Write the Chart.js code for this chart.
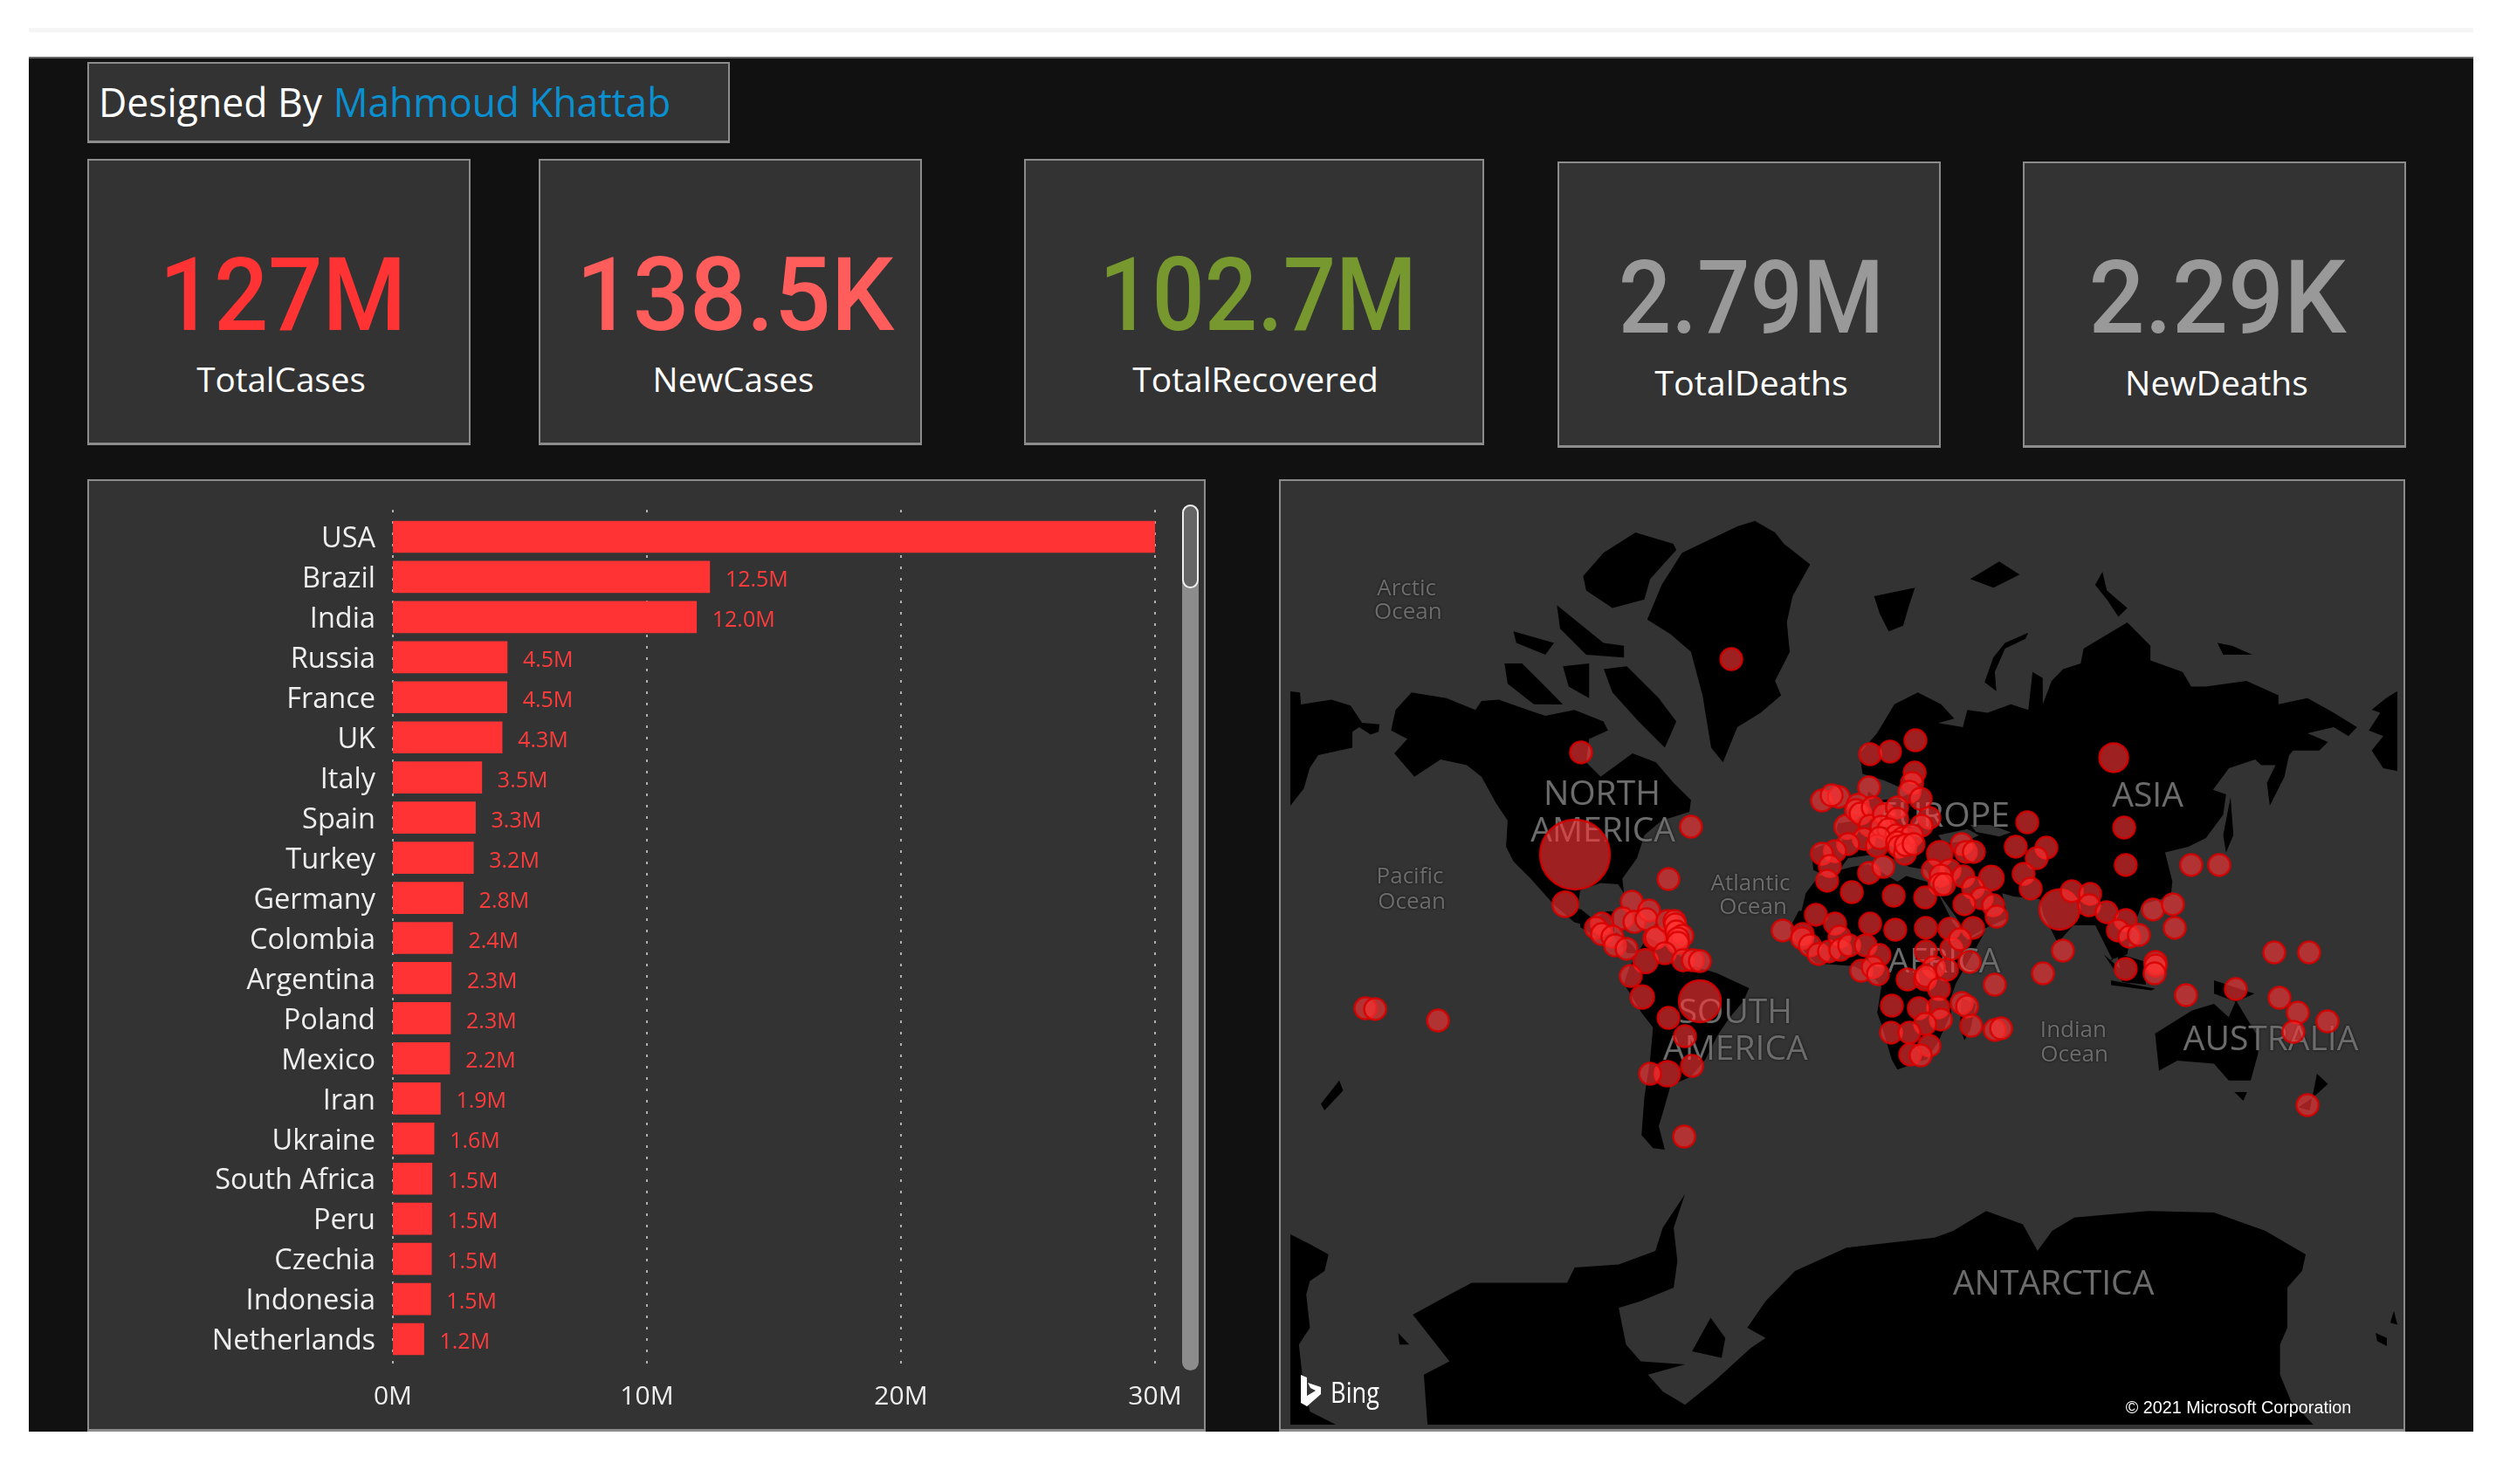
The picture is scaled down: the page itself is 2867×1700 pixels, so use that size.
<!DOCTYPE html>
<html lang="en">
<head>
<meta charset="UTF-8">
<title>COVID-19 dashboard</title>
<script src="https://cdn.jsdelivr.net/npm/chart.js@4"></script>
<style>
    html, body { margin: 0; padding: 0; background: #fff; }
    body { position: relative; width: 2867px; height: 1700px; overflow: hidden; font-family: "Open Sans", sans-serif; }
    .abs { position: absolute; box-sizing: border-box; }
    #strip { left: 33px; top: 32px; width: 2800px; height: 5px; background: #f5f5f5; }
    #board { left: 33px; top: 65px; width: 2800px; height: 1575px; background: #111; border-top: 2px solid #666; }
    .panel { background: #333; border: 2px solid #8c8c8c; border-bottom-width: 3px; }
    .txt { position: absolute; white-space: nowrap; line-height: 1; }
    canvas { position: absolute; }
    #track { left: 1354px; top: 578px; width: 19px; height: 992px; background: #8c8c8c; border-radius: 10px; }
    #thumb { left: 1354px; top: 578px; width: 19px; height: 96px; background: #666; border: 2px solid #eee; border-radius: 10px; }
</style>
</head>
<body>
<div id="strip" class="abs"></div>
<div id="board" class="abs"></div>
<div class="abs panel" style="left:100px;top:71px;width:736px;height:93px"></div>
<div class="abs panel" style="left:100px;top:549px;width:1281px;height:1091px"></div>
<div class="abs panel" style="left:1465px;top:549px;width:1290px;height:1091px"></div>
<canvas id="barChart" width="1281" height="1091" style="left:100px;top:549px"></canvas>
<div id="track" class="abs"></div>
<div id="thumb" class="abs"></div>
<canvas id="mapChart" width="1268" height="1077" style="left:1478px;top:555px"></canvas>
<svg class="abs" style="left:1490px;top:1575px" width="24" height="37" viewBox="0 0 24 37">
    <path fill="#fff" d="M0 0 L7 3 V24 L17 18 L11 15 L8 9 L23 14 V22 L7 36 L0 32 Z"/>
</svg>
<script>
// KPI cards
const kpiValues = ['127M', '138.5K', '102.7M', '2.79M', '2.29K'];
const kpiLabels = ['TotalCases', 'NewCases', 'TotalRecovered', 'TotalDeaths', 'NewDeaths'];

// bar chart
const countries = ['USA', 'Brazil', 'India', 'Russia', 'France', 'UK', 'Italy', 'Spain', 'Turkey', 'Germany',
    'Colombia', 'Argentina', 'Poland', 'Mexico', 'Iran', 'Ukraine', 'South Africa', 'Peru', 'Czechia', 'Indonesia', 'Netherlands'];
const casesM = [30.0, 12.47, 11.95, 4.5, 4.49, 4.3, 3.5, 3.25, 3.17, 2.77, 2.35, 2.3, 2.27, 2.24, 1.87, 1.62, 1.54, 1.53, 1.52, 1.49, 1.22];
const caseLabels = ['', '12.5M', '12.0M', '4.5M', '4.5M', '4.3M', '3.5M', '3.3M', '3.2M', '2.8M', '2.4M', '2.3M', '2.3M', '2.2M', '1.9M', '1.6M', '1.5M', '1.5M', '1.5M', '1.5M', '1.2M'];
const axisTicks = [0, 10, 20, 30];

// map bubbles, [map longitude, map northing]
const largeBubbles = [[-102, 45.7, 30], [-54.3, -10.3, 10.8], [83, 24.7, 10], [103.7, 82.7, 5.1], [-105.7, 26.7, 4],
    [-75, 5, 3.6], [-76.3, -8.7, 3.4], [-66.7, -38, 4], [1.7, 56.3, 3.6], [57, 36.7, 3.7], [37.3, 46, 4]];
const bubblesAmericas = [[-99.7, 84.7], [-57.7, 56.3], [-66.3, 36.3], [-42.3, 120.3], [-80.3, 27.7], [-83.7, 21.3], [-79.3, 20],
    [-73.7, 24.3], [-74.7, 21], [-91.7, 19.3], [-94, 17.7], [-91.7, 15.3], [-87.7, 14.3], [-86.7, 11], [-82.3, 9.7], [-71.7, 13.7],
    [-71, 14], [-66.7, 20.3], [-64, 20.3], [-63.7, 19], [-63.3, 16.3], [-61, 14.7], [-62.7, 13.7], [-62.7, 12], [-67.7, 8],
    [-60.7, 5.3], [-57, 5.3], [-54.3, 5], [-80.7, -0.7], [-66.3, -16.7], [-60, -23.7], [-57.3, -35], [-73.3, -38], [-60.3, -62],
    [-182, -13], [-178.3, -13.3], [-154.3, -17.7]];
const bubblesEurope = [[10.7, 84], [18.3, 85], [28, 89.3], [27.7, 77], [26.7, 73], [25.7, 69.7], [30, 67], [33.3, 59.7], [30.3, 56.7],
    [10.3, 71.3], [-7.7, 66.3], [-1.3, 67.7], [-4, 68.3], [6, 64.7], [5.3, 62.7], [7, 61.3], [11.7, 63.7], [10.7, 56.7], [16, 61],
    [21, 63.7], [21, 59.3], [15, 56.3], [17.7, 55.3], [20.7, 53], [23.3, 52], [26.7, 53], [8.3, 51.7], [2.3, 49.7], [-2.7, 47],
    [-7.7, 46], [-4.7, 41.3], [-5.7, 35.7], [13.3, 49], [14.3, 52], [21, 50.3], [21.7, 48.7], [24, 46], [24.3, 49.3], [27.3, 49.7],
    [10.3, 38.7], [15.7, 41]];
const bubblesAsia = [[45.7, 49.7], [47.3, 46.7], [50.3, 46.7], [34.7, 39.7], [41, 39.7], [37.7, 37.7], [37.3, 34.3], [39, 34.3], [46.3, 37.3],
    [50, 33], [53.3, 29], [57.7, 26.3], [46.7, 26.7], [59, 22], [70.7, 58], [66.3, 48.7], [78, 48.3], [74.3, 44.3], [69.3, 38.3], [72, 32.7],
    [107.7, 56], [108.3, 41.7], [133.3, 41.7], [144, 41.7], [87.7, 31.7], [94.7, 30.7], [94.3, 26.3], [101, 23.7], [118.7, 24.7], [126.3, 26.7],
    [127, 17.7], [108.3, 20.7], [105.3, 16.7], [109.7, 14.3], [113.3, 15], [84.3, 9], [165, 8.3], [178.3, 8.3], [119.7, 4.7], [119.7, 3.3],
    [119.3, 0.3], [108.3, 2], [76.7, 0.3], [131.3, -8], [150.3, -5.7], [167, -9], [174, -14.7], [185.3, -18], [172.3, -22], [177.7, -50]];
const bubblesAfrica = [[3.7, 31.3], [19.7, 30], [31.7, 29.3], [-10, 22.7], [10.7, 19.3], [20.3, 17], [32, 17.7], [41, 17.3], [50, 17.7], [-2.7, 19.3],
    [-22.7, 16.7], [-15, 15.3], [-15.3, 13.7], [-12.3, 11], [-9, 7.7], [-5, 8.7], [-1, 14.3], [-0.7, 9.3], [2.7, 11], [9, 11], [14.3, 7.3],
    [7.3, 1.3], [11.7, 2.7], [13.7, 0], [32, 8.7], [35, 2.7], [40, 1.7], [41.7, 9.7], [45, 13.3], [48.7, 4.7], [25, -2], [31.7, -2], [32, -0.7],
    [37, -5.7], [58.3, -4], [45.7, -11], [47.7, -12.3], [36.7, -12.7], [19, -12], [29.3, -13], [37.7, -17.3], [31.7, -19], [49.3, -19.7],
    [58.3, -21.3], [60.7, -20.7], [18.7, -22.3], [25.7, -22.3], [33.3, -27.3], [26, -30.7], [30, -31]];

// land outlines, same map units
const landChukotka = [[-210.7, 108], [-207, 107.6], [-206.6, 103], [-195, 104.8], [-187.7, 102.6], [-183.3, 96], [-176.6, 95.4], [-177, 92.6], [-180, 91.5],
    [-184.4, 94.3], [-187, 92.6], [-187, 86.5], [-200, 83.7], [-203.3, 78.7], [-205.5, 70.9], [-210.7, 64.3]];
const landNorthAmerica = [[-172.2, 93.1], [-170.5, 100.9], [-164.4, 107.6], [-151.1, 105.4], [-140, 100.9], [-137.7, 104.3], [-131.1, 104.8], [-120, 100.9],
    [-113.3, 98.7], [-102.2, 100.9], [-91.1, 96.5], [-89.4, 93.1], [-96.6, 89.8], [-97.7, 80.9], [-92.2, 75.4], [-80, 84.3], [-71.1, 80.9], [-64.4, 73.1],
    [-57.7, 66.5], [-58.3, 62], [-68.9, 58.7], [-75.5, 53.1], [-78.3, 44.3], [-83.9, 36.5], [-83.3, 30.9], [-85.5, 34.3], [-92.2, 34.8], [-100, 32], [-101, 25.4],
    [-95.5, 20.9], [-97.7, 18.7], [-102.2, 19.8], [-110, 26.5], [-118.9, 36.5], [-125.5, 43.1], [-128.3, 48.7], [-127.7, 58.7], [-132.2, 65.4], [-137.7, 75.4],
    [-143.3, 79.8], [-153.3, 82], [-160, 77.6], [-163.3, 75.4], [-171, 84.3], [-166, 89.8]];
const landCentralAmerica = [[-100, 25], [-95, 21], [-90, 24], [-87, 24], [-87, 14], [-82, 8], [-78, 8], [-80, 11], [-86, 16], [-92, 13], [-100, 18]];
const landSouthAmerica = [[-74.4, 14.2], [-65.5, 9.7], [-56.6, 3.1], [-47.7, 0.3], [-35.5, -5.3], [-37.7, -10.3], [-43.3, -17], [-47.7, -23.6], [-52.2, -32.5],
    [-57.7, -39.1], [-65.5, -42.5], [-67.7, -50.3], [-70, -58], [-67.7, -67], [-72.2, -66.4], [-76.6, -61.4], [-75.5, -46.9], [-73.3, -32.5], [-72.2, -20.3],
    [-76.6, -14.7], [-83.3, -3.6], [-81.1, 3.1], [-77.7, 8.6]];
const landGreenland = [[-61.1, 160.9], [-40, 171], [-33.3, 173.1], [-25.6, 168.7], [-22.2, 164.3], [-12.2, 156.5], [-18.9, 144.3], [-21.1, 134.3], [-20, 123.1],
    [-25.6, 112], [-23.3, 106.5], [-31.1, 99.8], [-40, 94.3], [-45.5, 80.9], [-50, 86.5], [-53.3, 106.5], [-57.7, 123.1], [-65.5, 129.8], [-74.4, 135.4], [-68.9, 148.7]];
const landEllesmere = [[-98.9, 152], [-91.1, 160.9], [-78.9, 168.7], [-64.4, 164.3], [-63.3, 162], [-73.3, 150.9], [-75.5, 143.1], [-87.7, 139.8], [-97.7, 146.5]];
const landBaffin = [[-91, 116.5], [-82.2, 117.6], [-70, 105.4], [-63.3, 96.5], [-67.7, 86.5], [-77.7, 96.5], [-87.7, 107.6]];
const landVictoria = [[-128.9, 118.7], [-122.2, 118.7], [-113.3, 109.8], [-106.6, 103], [-117.7, 103.1], [-127.7, 110.9]];
const landArctic1 = [[-125.5, 130.9], [-110, 126.5], [-113.3, 122], [-124.4, 126.5]];
const landArctic2 = [[-108.9, 140.9], [-91.1, 126.5], [-83.3, 125.4], [-83.3, 120.9], [-97.7, 122], [-107.7, 132]];
const landArctic3 = [[-106.6, 117.6], [-96.6, 118.7], [-96.6, 105.4], [-104.4, 109.8]];
const landEurasia = [[-11, 39.8], [-11.6, 47.6], [-3.3, 50.9], [0.6, 49.8], [-2.2, 55.4], [-1.6, 57.6], [5.6, 58.7], [8.9, 64.8], [10, 69.8], [14.5, 66.5], [21.1, 67],
    [26.7, 69.3], [16, 74], [7.8, 76.5], [6.7, 84.3], [13.3, 92], [20, 103.1], [28.9, 107.6], [37.8, 103.1], [42.8, 97.6], [36.7, 95.9], [46.1, 94.3], [47.8, 100.9],
    [55.6, 99.8], [64.4, 103.1], [71.1, 100.9], [72.7, 115.4], [76.6, 113.1], [76.6, 103.1], [80, 112], [84.4, 116.5], [91.1, 118.7], [92.2, 124.3], [108.9, 134.3],
    [117.7, 125.4], [117.7, 119.8], [130, 115.4], [133.3, 109.8], [138.9, 109.8], [154.4, 112], [166.6, 106.5], [166.6, 103.1], [177.7, 105.4], [187.7, 99.8], [196.6, 94.3],
    [193.3, 90.9], [187.7, 94.3], [177.7, 92], [185.5, 88.7], [182.2, 85.4], [172.2, 85.4], [167.7, 79.8], [160, 79.8], [157.7, 82], [147.7, 78.7], [141.6, 70.4], [146.6, 68.7],
    [145.5, 60.9], [138.9, 52], [132.2, 48.7], [123.3, 46.5], [126.1, 35.4], [125.5, 29.8], [114.4, 26.5], [110, 14.3], [108.9, 7.6], [102.2, 5.4], [103.3, 5.3], [96.7, 18.7],
    [88.3, 18.7], [82.3, 12], [76.7, 23], [75.6, 28.6], [65.6, 29.7], [61.1, 30.9], [63.3, 21.4], [54.5, 17.5], [47.8, 13.6], [43.4, 22], [37.3, 30.3], [34.5, 35.3], [32.2, 39.8],
    [25.6, 41], [18.9, 44.3], [10, 45.4], [2.3, 44.3], [-1.1, 39.8], [-6.6, 37.6]];
const landAfrica = [[-15.5, 24.2], [-13.9, 30.9], [-8.9, 37.5], [3.4, 40.9], [10, 42], [21.1, 35.3], [24.5, 37.5], [32.3, 35.3], [36.7, 30.9], [42.3, 19.7], [47.8, 13.1],
    [54.5, 16.4], [53.4, 14.2], [43.4, -3.6], [41.1, -10.3], [41.7, -14.7], [36.7, -25.8], [32.3, -32.5], [21.1, -36.4], [18.9, -32.5], [15, -19.2], [13.4, -14.7],
    [15, -4.7], [11.1, -0.3], [4.5, 3.1], [-10, 4.2], [-16.6, 10.9], [-20, 17.5], [-16.6, 24.2]];
const landMadagascar = [[45.6, -9.1], [51.1, -11.4], [48.9, -21.4], [46.7, -25.2], [45, -20.2]];
const landSvalbard = [[12.2, 144.3], [27.8, 147.6], [25.6, 140.9], [23.3, 133.1], [17.8, 130.9], [14.4, 137.6]];
const landFranzJosef = [[48.9, 150.9], [60, 157.6], [67.8, 152.6], [57.8, 147.6]];
const landSevernaya = [[96.6, 148.7], [99.4, 153.7], [101.1, 146.5], [108.9, 139.8], [105.5, 136.5], [101.1, 143.1]];
const landNewSiberian = [[143.3, 126.5], [148.9, 125.4], [156.6, 122], [145.5, 122]];
const landNovaya = [[71.1, 130.4], [70, 128.1], [62.2, 124.3], [58.3, 115.4], [58.9, 108.1], [54.4, 111.5], [57.7, 120.9], [62.2, 126.5]];
const landSakhalin = [[171.1, 85.9], [168.9, 75.4], [163.3, 64.3], [162.2, 73.1], [165.5, 79.8]];
const landJapan = [[148.3, 67.6], [149.4, 53.1], [146.6, 46.5], [145.5, 53.1]];
const landAlaskaWrap = [[212, 108.1], [212, 77.6], [206.6, 78.7], [202.2, 85.4], [206.6, 90.9], [201.1, 93.1], [205.5, 99.8], [202.2, 101], [207.7, 105.4]];
const landAustralia = [[119.5, -22.7], [133.6, -13.8], [142, -11.3], [147.6, -16.4], [150.4, -10], [158.8, -24], [158.8, -30.4], [156, -40.6], [147.6, -40.6], [142, -34.2], [128, -33], [121, -36.8]];
const landNewZealand = [[181.3, -38], [185.5, -41.9], [179.9, -47], [174.2, -50.8], [178.5, -52]];
const landNZWrap = [[-192, -40.6], [-190.5, -44.4], [-197.6, -52], [-199, -49.5]];
const landTasmania = [[149.8, -45], [154.6, -45], [153.2, -48.3]];
const landSumatra = [[100, 7.5], [108.9, -0.3], [110, -3.6], [106.7, -2.5]];
const landBorneo = [[105, 8], [115, 5], [116, -4], [107, -3]];
const landJava = [[102.7, -2.3], [119.5, -5.5], [118, -6.2], [102.7, -4.2]];
const landNewGuinea = [[142, -2.3], [157.4, -7.4], [150.4, -10.6], [142, -7.4]];
const landAntarcticaWest = [[-210.7, -99.3], [-203.2, -103.1], [-196.1, -107], [-197.6, -113.3], [-203.2, -117.2], [-204.6, -122.3], [-203.2, -135], [-207.4, -141.4], [-206, -154.2], [-203.2, -167], [-193.3, -172], [-210.7, -172]];
const landAntarctica = [[-158.3, -172], [-159.7, -152.9], [-149.9, -147.8], [-163.9, -130], [-149.9, -122.3], [-141.4, -117.8], [-105, -117.8], [-102.1, -112], [-85.3, -110.8], [-71.3, -105.7],
    [-68.5, -96.8], [-60, -84], [-64.3, -96.8], [-62.9, -109.5], [-64.3, -119.7], [-76.9, -124.8], [-85.3, -127.4], [-82.5, -141.4], [-76.9, -147.8], [-60, -149], [-74.1, -152.9], [-68.5, -159.3],
    [-60, -164.4], [-48.8, -155.4], [-34.8, -142.7], [-29.2, -138.9], [-36.2, -135], [-29.2, -124.8], [-18, -113.3], [1.7, -104.4], [35.4, -100.6], [42.4, -98], [55, -90.4], [69, -95.5], [74.6, -105.7],
    [80.2, -98], [88.7, -92.9], [116.7, -90.4], [142, -91], [161.6, -98], [177, -107], [175.6, -113.3], [170, -119.7], [170, -135], [167.2, -141.4], [167.2, -152.9], [171.4, -163.1], [179.9, -172]];
const landBerkner = [[-50.2, -131.2], [-44.6, -138.9], [-46, -146.5], [-57.3, -144]];
const landIslet1 = [[203.7, -137], [208, -138.9], [208, -142], [204.3, -140.1]];
const landIslet2 = [[210.7, -128.6], [212, -133.8], [209.3, -133.1]];
const landIslet3 = [[-169.5, -137], [-165.3, -141.4], [-169, -141.4]];
const waterBlackSea = [[36.7, 53.1], [47.8, 55.4], [52.3, 53.1], [47.8, 50.9], [38.9, 49.8]];
const waterCaspian = [[49, 57], [56.7, 57], [64.5, 54.2], [60, 52.6], [51.2, 54.3]];

const landShapes = [landChukotka, landNorthAmerica, landCentralAmerica, landSouthAmerica, landGreenland, landEllesmere, landBaffin, landVictoria, landArctic1, landArctic2, landArctic3,
    landEurasia, landAfrica, landMadagascar, landSvalbard, landFranzJosef, landSevernaya, landNewSiberian, landNovaya, landSakhalin, landJapan, landAlaskaWrap, landAustralia,
    landNewZealand, landNZWrap, landTasmania, landSumatra, landBorneo, landJava, landNewGuinea, landAntarcticaWest, landAntarctica, landBerkner, landIslet1, landIslet2, landIslet3];
const waterShapes = [waterBlackSea, waterCaspian];

// place names on the base map: [text, lon, north, kind]
const mapLabels = [['Arctic', -166.3, 147.7, 's'], ['Ocean', -165.7, 138.7, 's'], ['Pacific', -165, 37.7, 's'], ['Ocean', -164.3, 28.3, 's'],
    ['Atlantic', -35, 35.3, 's'], ['Ocean', -34, 26, 's'], ['Indian', 88.3, -20.7, 's'], ['Ocean', 88.7, -30.3, 's'],
    ['NORTH', -91.7, 69.3, 'l'], ['AMERICA', -91.3, 55.3, 'l'], ['SOUTH', -40.7, -14, 'l'], ['AMERICA', -40.7, -28, 'l'],
    ['EUROPE', 39, 61, 'l'], ['AFRICA', 39, 5.3, 'l'], ['ASIA', 116.7, 68.7, 'l'], ['AUSTRALIA', 163.7, -24.3, 'l'], ['ANTARCTICA', 80.7, -117.7, 'l']];

// ---- page text
const sansK = 0.888, robotoK = 0.8415;
function addText(str, cx, baseline, size, color, font, k, targetWidth, weight) {
    const el = document.createElement('div');
    el.className = 'txt';
    el.textContent = str;
    el.style.font = (weight || 400) + ' ' + size + 'px ' + font;
    el.style.lineHeight = '1';
    el.style.color = color;
    el.style.left = cx + 'px';
    el.style.top = (baseline - k * size) + 'px';
    document.body.appendChild(el);
    const s = targetWidth ? targetWidth / el.offsetWidth : 1;
    el.style.transform = 'translateX(-50%) scaleX(' + s + ')';
    return el;
}

const cardBoxes = [[100, 182, 439, 328], [617, 182, 439, 328], [1173, 182, 527, 328], [1784, 185, 439, 328], [2317, 185, 439, 328]];
const kpiColors = ['#ff3333', '#ff5c5c', '#76982f', '#999999', '#999999'];
const kpiSpan = [[182, 465], [660, 1024], [1259, 1623], [1854, 2158], [2392, 2687]];
const labelSpan = [[225, 419], [747, 932], [1297, 1579], [1895, 2117], [2434, 2644]];
const kpiBase = [378, 378, 378, 381, 381];
const labelBase = [449, 449, 449, 453, 453];

cardBoxes.forEach((b, i) => {
    const card = document.createElement('div');
    card.className = 'abs panel';
    card.style.cssText = 'left:' + b[0] + 'px;top:' + b[1] + 'px;width:' + b[2] + 'px;height:' + b[3] + 'px';
    document.body.appendChild(card);
    addText(kpiValues[i], (kpiSpan[i][0] + kpiSpan[i][1]) / 2, kpiBase[i], 117, kpiColors[i], 'Roboto', robotoK, kpiSpan[i][1] - kpiSpan[i][0], 500);
    addText(kpiLabels[i], (labelSpan[i][0] + labelSpan[i][1]) / 2, labelBase[i], 39, '#ffffff', '"Open Sans"', sansK, labelSpan[i][1] - labelSpan[i][0]);
});

addText('Designed By', 241, 134, 45, '#ffffff', '"Open Sans"', sansK, 256);
addText('Mahmoud Khattab', 575, 134, 45, '#0a90d0', '"Open Sans"', sansK, 386);
addText('Bing', 1552, 1607, 32, '#ffffff', '"Open Sans"', sansK, 56);
addText('\u00a9 2021 Microsoft Corporation', 2564, 1619, 20, '#ffffff', '"Liberation Sans"', 0.855, 259);

// ---- bar chart
const dottedGrid = {
    id: 'dottedGrid',
    beforeDatasetsDraw(chart) {
        const ctx = chart.ctx, xs = chart.scales.x, area = chart.chartArea;
        ctx.save();
        ctx.strokeStyle = '#b0b0b0';
        ctx.lineWidth = 2;
        ctx.setLineDash([3, 10]);
        axisTicks.forEach(t => {
            const px = Math.round(xs.getPixelForValue(t));
            ctx.beginPath();
            ctx.moveTo(px, area.top - 8);
            ctx.lineTo(px, area.bottom + 14);
            ctx.stroke();
        });
        ctx.restore();
    }
};
const barValueLabels = {
    id: 'barValueLabels',
    afterDatasetsDraw(chart) {
        const ctx = chart.ctx;
        ctx.save();
        ctx.font = '25px "Open Sans"';
        ctx.fillStyle = '#ff3b3b';
        ctx.textBaseline = 'middle';
        chart.getDatasetMeta(0).data.forEach((bar, i) => {
            ctx.fillText(caseLabels[i], bar.x + 18, bar.y + 4);
        });
        ctx.restore();
    }
};

new Chart(document.getElementById('barChart'), {
    type: 'bar',
    data: {
        labels: countries,
        datasets: [{ data: casesM, backgroundColor: '#ff3333', borderWidth: 0, barThickness: 36 }]
    },
    options: {
        indexAxis: 'y',
        responsive: false,
        animation: false,
        devicePixelRatio: 1,
        layout: { padding: { top: 43, right: 58 } },
        plugins: { legend: { display: false }, tooltip: { enabled: false } },
        scales: {
            x: {
                type: 'linear', min: 0, max: 30,
                afterFit: s => { s.height = 83; },
                afterBuildTicks: s => { s.ticks = axisTicks.map(v => ({ value: v })); },
                grid: { display: false },
                border: { display: false },
                ticks: { color: '#eeeeee', font: { family: '"Open Sans"', size: 30 }, padding: 17, maxRotation: 0, callback: v => v + 'M' }
            },
            y: {
                afterFit: s => { s.width = 350; },
                grid: { display: false },
                border: { display: false },
                ticks: { color: '#eeeeee', font: { family: '"Open Sans"', size: 32.5 }, padding: 12, labelOffset: 3, autoSkip: false }
            }
        }
    },
    plugins: [dottedGrid, barValueLabels]
});

// ---- map
const placeNames = {
    id: 'placeNames',
    beforeDatasetDraw(chart, args) {
        if (args.index !== 0) return;
        const ctx = chart.ctx;
        ctx.save();
        ctx.textAlign = 'center';
        ctx.textBaseline = 'middle';
        mapLabels.forEach(([name, lon, north, kind]) => {
            ctx.font = (kind === 's' ? 26 : 39) + 'px "Open Sans"';
            ctx.fillStyle = '#6c6c6c';
            ctx.shadowColor = '#111';
            ctx.shadowBlur = 3;
            ctx.fillText(name, chart.scales.x.getPixelForValue(lon), chart.scales.y.getPixelForValue(north) + (kind === 's' ? 2 : 3));
        });
        ctx.restore();
    }
};

const toBubble = ([x, y, v]) => ({ x, y, r: Math.max(12.5, 7.3 * Math.sqrt(v || 0)) });
const allBubbles = [...largeBubbles, ...bubblesAmericas, ...bubblesEurope, ...bubblesAsia, ...bubblesAfrica].map(toBubble);
const shapeSet = (pts, color, order) => ({
    type: 'line',
    data: pts.map(([x, y]) => ({ x, y })),
    fill: 'shape',
    backgroundColor: color,
    borderWidth: 0,
    pointRadius: 0,
    tension: 0,
    order
});

new Chart(document.getElementById('mapChart'), {
    type: 'bubble',
    data: {
        datasets: [
            { data: allBubbles, backgroundColor: 'rgba(255,51,51,0.62)', borderColor: 'rgba(218,0,0,0.88)', borderWidth: 2.5, order: 0 },
            ...waterShapes.map(p => shapeSet(p, '#333333', 1)),
            ...landShapes.map(p => shapeSet(p, '#000000', 2))
        ]
    },
    options: {
        responsive: false,
        animation: false,
        devicePixelRatio: 1,
        layout: { autoPadding: false },
        plugins: { legend: { display: false }, tooltip: { enabled: false } },
        scales: {
            x: { type: 'linear', display: false, min: -210.67, max: 212 },
            y: { type: 'linear', display: false, min: -172, max: 187 }
        }
    },
    plugins: [placeNames]
});
</script>
</body>
</html>
